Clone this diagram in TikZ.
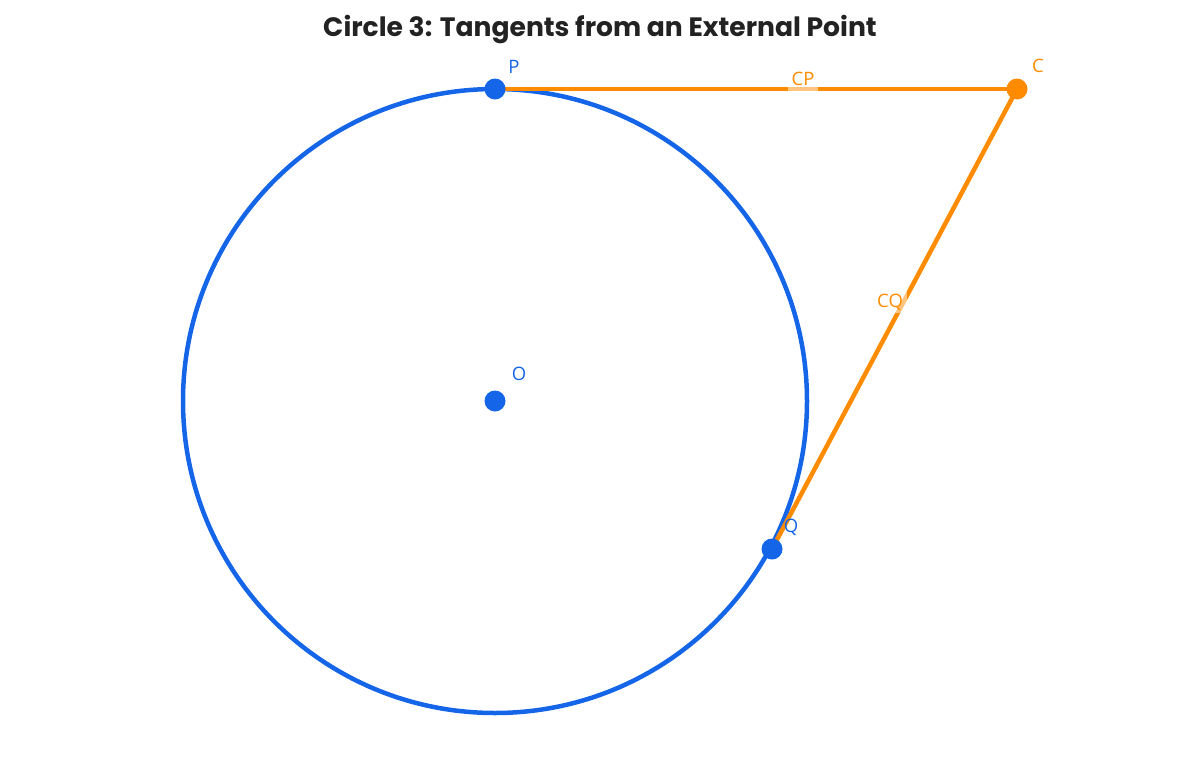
\documentclass[tikz,border=0pt]{standalone}
\usepackage{fontspec}
\setmainfont{Poppins}
\newfontfamily\labelfont{Open Sans}
\usepackage{tikz}
\definecolor{circblue}{HTML}{1565E8}
\definecolor{tanorange}{HTML}{FF8C00}
\definecolor{titlegray}{HTML}{222222}
\tikzset{
  bluedot/.style={circle, fill=circblue, inner sep=0pt, minimum size=21pt},
  orangedot/.style={circle, fill=tanorange, inner sep=0pt, minimum size=21pt},
  ptlabel/.style={font=\labelfont\fontsize{18.5}{18.5}\selectfont, inner sep=0pt},
  seglabel/.style={font=\labelfont\fontsize{18.5}{18.5}\selectfont, text=tanorange, fill=white, fill opacity=0.5, text opacity=1, inner xsep=4pt, inner ysep=9pt}
}
\begin{document}
\begin{tikzpicture}[x=1pt, y=-1pt]
    \useasboundingbox (0,0) rectangle (1200,763); % page
    \node[font=\bfseries\fontsize{26.6}{26.6}\selectfont, text=titlegray] (title) at (600,30) {Circle 3: Tangents from an External Point}; % title
    \coordinate (O) at (495,401); % centre
    \coordinate (P) at (495,89); % tangent point
    \coordinate (Q) at (772,549); % tangent point
    \coordinate (C) at (1017,89); % external point
    \draw[line width=4.5pt, circblue] (O) circle (312); % circle
    \draw[line width=4.5pt, tanorange] (C) -- node[seglabel, pos=0.41, yshift=10pt] (CPlab) {CP} (P); % tangent CP
    \draw[line width=4.5pt, tanorange] (C) -- node[seglabel, inner ysep=3pt, pos=0.463, xshift=-13.5pt] (CQlab) {CQ} (Q); % tangent CQ
    \node[bluedot] (dotO) at (O) {}; % point O
    \node[bluedot] (dotP) at (P) {}; % point P
    \node[bluedot] (dotQ) at (Q) {}; % point Q
    \node[orangedot] (dotC) at (C) {}; % point C
    \node[ptlabel, text=circblue] (labO) at (519,374) {O};
    \node[ptlabel, text=circblue] (labP) at (514,67) {P};
    \node[ptlabel, text=circblue] (labQ) at (791,527) {Q};
    \node[ptlabel, text=tanorange] (labC) at (1038,66) {C};
\end{tikzpicture}
\end{document}
